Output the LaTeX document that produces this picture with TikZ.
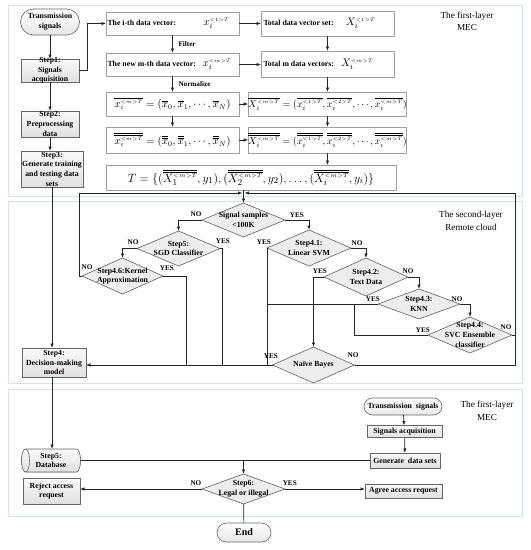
\documentclass[tikz,border=0pt]{standalone}
\usepackage{fontspec}
\setmainfont{Liberation Serif}
\usetikzlibrary{shapes.geometric,shapes.misc,arrows.meta,calc}
\definecolor{panelc}{RGB}{212,225,240}
\newcommand{\mysup}[1]{^{\scriptscriptstyle<#1>T}}
\begin{document}
\begin{tikzpicture}[x=1pt,y=-1pt,
 every node/.style={inner sep=0pt, outer sep=0pt, align=center, font=\fontsize{7.8}{9.7}\selectfont\bfseries},
 ln/.style={draw=black!85, line width=0.7pt},
 arr/.style={ln, -{Latex[length=4.5pt,width=3.4pt]}},
 tx/.style={label={[align=center]center:{#1}}},
 stepbox/.style={rectangle, draw=gray!80!black, line width=0.6pt, top color=gray!4, bottom color=gray!24},
 databox/.style={rectangle, draw=gray!75, line width=0.7pt, fill=white},
 dia/.style={diamond, draw=gray!75!black, line width=0.6pt, fill=gray!14},
 term/.style={rounded rectangle, draw=gray!80!black, line width=0.6pt, top color=white, bottom color=gray!18},
 panel/.style={draw=panelc, line width=0.8pt, fill=white},
 plab/.style={font=\fontsize{9.2}{12.5}\selectfont\mdseries},
 elab/.style={font=\fontsize{7.2}{8}\selectfont\bfseries},
 mth/.style={font=\fontsize{10.5}{12}\selectfont},
 mthr/.style={font=\fontsize{9.6}{12}\selectfont},
]
\useasboundingbox (0,0) rectangle (531,550);
% panels
\draw[panel] (8,5) rectangle (522,196);
\draw[panel] (8,201) rectangle (522,383);
\draw[panel] (8,389) rectangle (522,516);
\node[plab] (p1) at (467,21.5) {The first-layer\\MEC};
\node[plab] (p2) at (471,221) {The second-layer\\Remote cloud};
\node[plab] (p3) at (487,411) {The first-layer\\MEC};

% left column
\node[term, minimum width=59, minimum height=26, tx={Transmission\\signals}] (ts1) at (50,22) {};
\node[stepbox, minimum width=58, minimum height=23, tx={Step1:\\Signals\\acquisition}] (s1) at (50,70.5) {};
\node[stepbox, minimum width=58, minimum height=26, tx={Step2:\\Preprocessing\\data}] (s2) at (50,124) {};
\node[stepbox, minimum width=62, minimum height=36, tx={Step3:\\Generate training\\and testing data\\sets}] (s3) at (52,169) {};
\node[stepbox, minimum width=64, minimum height=29, tx={Step4:\\Decision-making\\model}] (s4) at (54,362.5) {};
\node[rectangle, minimum width=59, minimum height=23] (db) at (51,460.5) {};
\filldraw[draw=gray!80!black, line width=0.6pt, top color=gray!4, bottom color=gray!24]
  ($(db.north west)+(4,0)$) -- ($(db.north east)+(-4,0)$)
  arc[start angle=-90, end angle=90, x radius=4, y radius=11.5]
  -- ($(db.south west)+(4,0)$)
  arc[start angle=90, end angle=270, x radius=4, y radius=11.5] -- cycle;
\draw[draw=gray!80!black, line width=0.6pt] ($(db.north west)+(4,0)$) arc[start angle=-90, end angle=90, x radius=4, y radius=11.5];
\node (dbt) at (db.center) {Step5:\\Database};
\node[stepbox, minimum width=57, minimum height=26, tx={Reject access\\request}] (rej) at (51.5,491) {};

% data boxes
\node[databox, minimum width=133, minimum height=23] (iv) at (172.5,23.5) {\makebox[130pt][l]{The i-th data vector:\hfill{\fontsize{11}{12}\selectfont$x_i\mysup{1}$}\hspace{8pt}}};
\node[databox, minimum width=133, minimum height=25] (tvs) at (327.5,23.5) {\makebox[128pt][l]{Total data vector set:\hfill{\fontsize{11}{12}\selectfont$X_i\mysup{1}$}\hspace{16pt}}};
\node[databox, minimum width=133, minimum height=23] (nm) at (172.5,64.5) {\makebox[130pt][l]{The new m-th data vector:\hfill{\fontsize{11}{12}\selectfont$x_i\mysup{m}$}\hspace{6pt}}};
\node[databox, minimum width=133, minimum height=26] (tm) at (327.5,64) {\makebox[128pt][l]{Total m data vectors:\hfill{\fontsize{11}{12}\selectfont$X_i\mysup{m}$}\hspace{18pt}}};
\node[databox, mth, minimum width=133, minimum height=24] (ov1) at (172.5,104) {$\overline{x_i\mysup{m}} = (\overline{x}_0,\overline{x}_1,\cdots,\overline{x}_N)$};
\node[databox, mthr, minimum width=133, minimum height=24] (ov2) at (327.5,104) {$\overline{X_i\mysup{m}}=(\overline{x_i\mysup{1}},\overline{x_i\mysup{2}},\cdots,\overline{x_i\mysup{m}})$};
\node[databox, mth, minimum width=133, minimum height=26] (dv1) at (172.5,140) {$\overline{\overline{x_i\mysup{m}}} = (\overline{\overline{x}}_0,\overline{\overline{x}}_1,\cdots,\overline{\overline{x}}_N)$};
\node[databox, mthr, minimum width=133, minimum height=26] (dv2) at (327.5,140) {$\overline{\overline{X_i\mysup{m}}}=(\overline{\overline{x_i\mysup{1}}},\overline{\overline{x_i\mysup{2}}},\cdots,\overline{\overline{x_i\mysup{m}}})$};
\node[databox, minimum width=290, minimum height=25, font=\fontsize{12.5}{14}\selectfont] (tb) at (251,177.5) {$T=\{(\overline{\overline{X_1\mysup{m}}},y_1),(\overline{\overline{X_2\mysup{m}}},y_2),\ldots,(\overline{\overline{X_i\mysup{m}}},y_i)\}$};

% diamonds
\node[dia, minimum width=83, minimum height=34, tx={Signal samples\\<100K}] (ss) at (243.5,220) {};
\node[dia, minimum width=83, minimum height=35, tx={Step5:\\SGD Classifier}] (sgd) at (178.5,248.5) {};
\node[dia, minimum width=81, minimum height=36, tx={Step4.6:Kernel\\Approximation}] (ka) at (122.5,276) {};
\node[dia, minimum width=84, minimum height=36, tx={Step4.1:\\Linear SVM}] (lsvm) at (309,248) {};
\node[dia, minimum width=84, minimum height=38, tx={Step4.2:\\Text Data}] (td) at (366,277) {};
\node[dia, minimum width=82, minimum height=30, tx={Step4.3:\\KNN}] (knn) at (419,304) {};
\node[dia, minimum width=84, minimum height=36, tx={Step4.4:\\SVC Ensemble\\classifier}] (svc) at (470,335) {};
\node[dia, minimum width=82, minimum height=36, tx={Naïve Bayes}] (nb) at (313.5,365) {};

% bottom panel
\node[term, minimum width=78, minimum height=17, tx={Transmission\ \ signals}] (ts2) at (403,406.5) {};
\node[stepbox, minimum width=75, minimum height=12, tx={Signals acquisition}] (sa) at (404.5,431.5) {};
\node[stepbox, minimum width=70, minimum height=15, tx={Generate\ \ data sets}] (gds) at (405,460.5) {};
\node[stepbox, minimum width=77, minimum height=14, tx={Agree access request}] (agree) at (403.5,491) {};
\node[dia, minimum width=83, minimum height=30, tx={Step6:\\Legal or illegal}] (st6) at (243.5,489) {};
\node[term, minimum width=54, minimum height=19, tx={\fontsize{10}{12}\selectfont End}] (end) at (244,532.5) {};

% coordinates
\coordinate (mt) at (243.5,193);
\coordinate (rr) at (515,365);
\coordinate (j1) at (186,365);
\coordinate (j2) at (222,365);

% connectors top
\draw[arr] (ts1) -- (s1);
\draw[arr] (s1) -- (s2);
\draw[arr] (s2.south) -- (s2.south |- s3.north);
\draw[arr] (s3.south) -- (s3.south |- s4.north);
\draw[arr] (s3.south |- s4.south) -- (s3.south |- db.north);
\draw[arr] (s1.east) -- ++(8,0) |- (iv.west);
\draw[arr] (iv) -- (tvs);
\draw[arr] (iv) -- node[elab, right=6pt] (lf) {Filter} (nm);
\draw[arr] (nm) -- (tm.west |- nm.east);
\draw[arr] (tvs) -- (tm);
\draw[arr] (nm) -- node[elab, right=6pt] (ln) {Normalize} (ov1);
\draw[arr] (tm) -- (ov2);
\draw[arr] (ov1) -- (ov2);
\draw[arr] (ov1) -- (dv1);
\draw[arr] (ov2) -- (dv2);
\draw[arr] (dv1) -- (dv2);
\draw[arr] (dv2.south) -- (dv2.south |- tb.north);
\draw[arr] (tb.south -| ss.north) -- (ss.north);

% second layer
\draw[arr] (ka.west) -- ++(-3,0) |- ([xshift=-1pt]mt);
\draw[arr] (nb.east) -- (rr) |- ([xshift=1pt]mt);
\draw[ln] (svc.east) -- (svc.east -| rr);
\draw[arr] (ss.west) -| (sgd.north);
\draw[arr] (ss.east) -| (lsvm.north);
\draw[arr] (sgd.west) -| (ka.north);
\draw[arr] (lsvm.east) -| (td.north);
\draw[arr] (td.east) -| (knn.north);
\draw[arr] (knn.east) -| (svc.north);
\draw[arr] (td.west) -| (nb.north);
\draw[arr] (nb.west) -- (nb.west -| s4.east);
\draw[ln] (ka.east) -| (j1);
\draw[ln] (sgd.east) -| (j2);
\draw[ln] (lsvm.west) -- (lsvm.west |- j2);
\draw[ln] (knn.west) -- (knn.west -| lsvm.west);
\draw[ln] (svc.west) -| ($(knn.west)+(-24,0)$);

% labels second layer
\node[elab] (n1) at (196,214) {NO};
\node[elab] (y1) at (297,215) {YES};
\node[elab] (n2) at (133,242) {NO};
\node[elab] (y2) at (223,241) {YES};
\node[elab] (y3) at (264,242) {YES};
\node[elab] (n3) at (87,267) {NO};
\node[elab] (y4) at (167,268) {YES};
\node[elab] (n4) at (357,243) {NO};
\node[elab] (y5) at (320,271) {YES};
\node[elab] (n5) at (408,271) {NO};
\node[elab] (y6) at (373,299) {YES};
\node[elab] (n6) at (457,299) {NO};
\node[elab] (y7) at (423,330) {YES};
\node[elab] (n7) at (506,327) {NO};
\node[elab] (y8) at (271,356) {YES};
\node[elab] (n8) at (353,355) {NO};

% bottom connectors
\draw[arr] (ts2) -- (sa);
\draw[arr] (sa) -- (gds);
\draw[ln] (db.east) -- (gds.west);
\draw[arr] (st6.north |- gds.west) -- (st6.north);
\draw[arr] (st6.west) -- (st6.west -| rej.east) node[elab, pos=0.05, above=3pt] (n9) {NO};
\draw[arr] (st6.east) -- (st6.east -| agree.west) node[elab, pos=0.06, above=3pt] (y9) {YES};
\draw[ln] (st6) -- (end);
\end{tikzpicture}
\end{document}
